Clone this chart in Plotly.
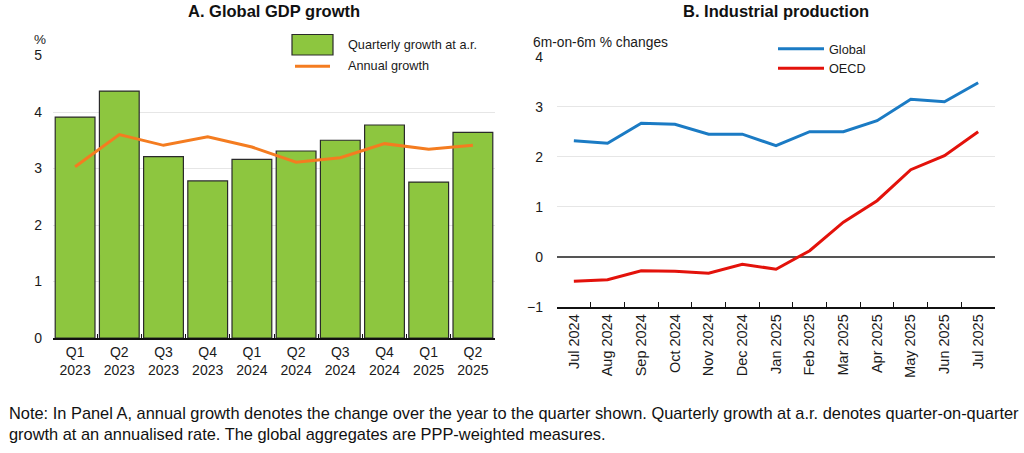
import plotly.graph_objects as go

W, H = 1024, 453

# ---- Data ----
quarters = ["Q1<br>2023", "Q2<br>2023", "Q3<br>2023", "Q4<br>2023",
            "Q1<br>2024", "Q2<br>2024", "Q3<br>2024", "Q4<br>2024",
            "Q1<br>2025", "Q2<br>2025"]
quarterly_ar = [3.91, 4.37, 3.21, 2.78, 3.16, 3.31, 3.50, 3.77, 2.76, 3.64]
annual_growth = [3.03, 3.60, 3.41, 3.56, 3.38, 3.11, 3.19, 3.44, 3.34, 3.41]

months = ["Jul 2024", "Aug 2024", "Sep 2024", "Oct 2024", "Nov 2024", "Dec 2024",
          "Jan 2025", "Feb 2025", "Mar 2025", "Apr 2025", "May 2025", "Jun 2025", "Jul 2025"]
ip_global = [2.32, 2.27, 2.67, 2.65, 2.45, 2.45, 2.22, 2.50, 2.50, 2.72, 3.15, 3.10, 3.48]
ip_oecd = [-0.49, -0.46, -0.28, -0.29, -0.33, -0.15, -0.25, 0.12, 0.69, 1.12, 1.74, 2.02, 2.50]

yticksA = [0, 1, 2, 3, 4, 5]
yticksB = [-1, 0, 1, 2, 3, 4]

GREEN = "#8DC63F"
BAR_EDGE = "#2a2a2a"
ORANGE = "#F47C20"
BLUE = "#1B7BC4"
RED = "#E3120B"


def px(x):
    return x / W


def py(y):
    return 1 - y / H


FONT = "Liberation Sans, Arial, sans-serif"
TXT = "#1a1a1a"

fig = go.Figure()

fig.add_trace(go.Bar(
    x=quarters, y=quarterly_ar, name="Quarterly growth at a.r.",
    marker=dict(color=GREEN, line=dict(color=BAR_EDGE, width=1.2)),
    xaxis="x", yaxis="y", showlegend=False))
fig.add_trace(go.Scatter(
    x=quarters, y=annual_growth, name="Annual growth", mode="lines",
    line=dict(color=ORANGE, width=3), xaxis="x", yaxis="y", showlegend=False))

fig.add_trace(go.Scatter(
    x=months, y=ip_global, name="Global", mode="lines",
    line=dict(color=BLUE, width=3), xaxis="x2", yaxis="y2", legend="legend"))
fig.add_trace(go.Scatter(
    x=months, y=ip_oecd, name="OECD", mode="lines",
    line=dict(color=RED, width=3), xaxis="x2", yaxis="y2", legend="legend"))

ytickfont = dict(family=FONT, size=14, color=TXT)
xtickfontA = dict(family=FONT, size=14, color=TXT)
xtickfontB = dict(family=FONT, size=14.5, color=TXT)

fig.update_layout(
    width=W, height=H,
    template="none",
    margin=dict(l=0, r=0, t=0, b=0, pad=0),
    paper_bgcolor="white", plot_bgcolor="white",
    bargap=0.1,
    font=dict(family=FONT, color=TXT),
    xaxis=dict(domain=[px(53), px(495)], anchor="y", type="category",
               range=[-0.5, 9.5], showline=True, linecolor="#111111", linewidth=1.5,
               ticks="inside", tickson="boundaries", ticklen=4, tickcolor="#111111",
               showgrid=False, tickfont=xtickfontA, automargin=False, zeroline=False),
    yaxis=dict(domain=[py(338), py(55.5)], anchor="x", range=[0, 5],
               tickvals=yticksA, showgrid=True, gridcolor="#e6e6e6", gridwidth=1,
               zeroline=False, showline=False, ticks="", tickfont=ytickfont,
               ticklabelstandoff=10, automargin=False),
    xaxis2=dict(domain=[px(557), px(995)], anchor="y2", type="category",
                range=[-0.5, 12.5], showline=True, linecolor="#111111", linewidth=1.5,
                ticks="inside", tickson="boundaries", ticklen=5, tickcolor="#111111",
                showgrid=False, tickangle=-90, tickfont=xtickfontB, automargin=False,
                zeroline=False),
    yaxis2=dict(domain=[py(306.7), py(56.7)], anchor="x2", range=[-1, 4],
                tickvals=yticksB, showgrid=True, gridcolor="#e6e6e6", gridwidth=1,
                zeroline=True, zerolinecolor="#555555", zerolinewidth=2,
                showline=False, ticks="", tickfont=ytickfont, ticklabelstandoff=13,
                automargin=False),
    legend=dict(x=px(773), y=py(34), xanchor="left", yanchor="top",
                bgcolor="rgba(0,0,0,0)", font=dict(family=FONT, size=12.7, color=TXT),
                tracegroupgap=0, itemwidth=46, borderwidth=0),
    showlegend=True,
)

# Manual legend for panel A (large bar swatch as in the reference)
shapes = [
    dict(type="rect", xref="paper", yref="paper",
         x0=px(292), x1=px(333), y0=py(55), y1=py(34.5),
         fillcolor=GREEN, line=dict(color=BAR_EDGE, width=1.2)),
    dict(type="line", xref="paper", yref="paper",
         x0=px(295), x1=px(330), y0=py(66.3), y1=py(66.3),
         line=dict(color=ORANGE, width=3)),
]

annotations = [
    dict(text="Quarterly growth at a.r.", x=px(346), y=py(45), xref="paper", yref="paper",
         showarrow=False, xanchor="left", yanchor="middle",
         font=dict(family=FONT, size=12.7, color=TXT)),
    dict(text="Annual growth", x=px(346), y=py(66.5), xref="paper", yref="paper",
         showarrow=False, xanchor="left", yanchor="middle",
         font=dict(family=FONT, size=12.7, color=TXT)),
    dict(text="<b>A. Global GDP growth</b>", x=px(274), y=py(10.5), xref="paper", yref="paper",
         showarrow=False, xanchor="center", yanchor="middle",
         font=dict(family=FONT, size=16.5, color="#111111")),
    dict(text="<b>B. Industrial production</b>", x=px(776), y=py(10.5), xref="paper", yref="paper",
         showarrow=False, xanchor="center", yanchor="middle",
         font=dict(family=FONT, size=16.5, color="#111111")),
    dict(text="%", x=px(32), y=py(39), xref="paper", yref="paper",
         showarrow=False, xanchor="left", yanchor="middle",
         font=dict(family=FONT, size=13.5, color=TXT)),
    dict(text="6m-on-6m % changes", x=px(531), y=py(42), xref="paper", yref="paper",
         showarrow=False, xanchor="left", yanchor="middle",
         font=dict(family=FONT, size=13.8, color=TXT)),
    dict(text="Note: In Panel A, annual growth denotes the change over the year to the quarter shown. "
              "Quarterly growth at a.r. denotes quarter-on-quarter<br>growth at an annualised rate. "
              "The global aggregates are PPP-weighted measures.",
         x=px(7), y=py(423), xref="paper", yref="paper", showarrow=False,
         xanchor="left", yanchor="middle", align="left",
         font=dict(family=FONT, size=16.4, color="#111111")),
]
fig.update_layout(annotations=annotations, shapes=shapes)

fig.write_html("out.html")
